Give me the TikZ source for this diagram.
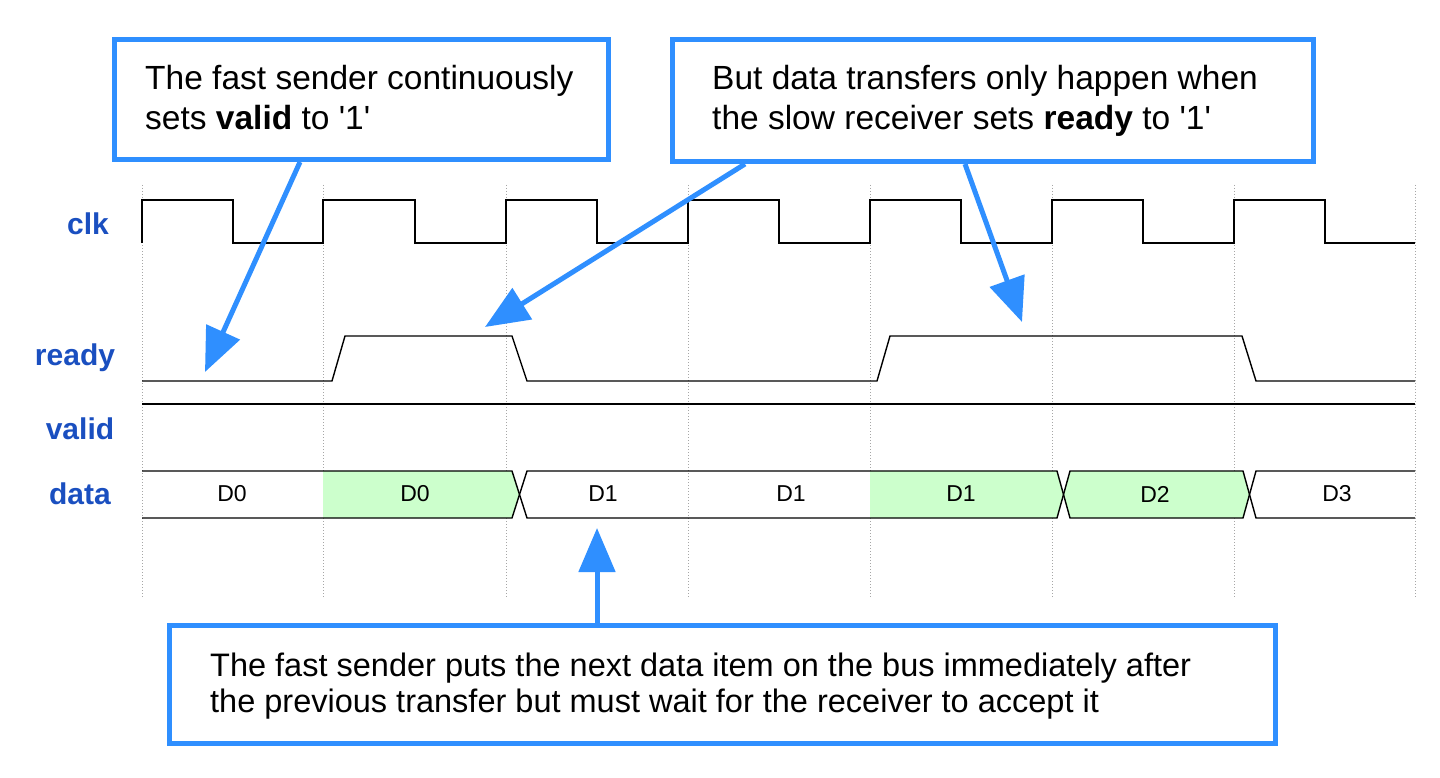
\documentclass[tikz,border=0pt]{standalone}
\usepackage{fontspec}
\setmainfont{Liberation Sans}
\usetikzlibrary{arrows.meta}
\definecolor{lbl}{HTML}{1A4FC0}
\definecolor{cb}{HTML}{2F8FFF}
\definecolor{gr}{HTML}{CCFFCC}
\newcommand{\sq}{\textquotesingle}
\begin{document}
\begin{tikzpicture}[x=1pt,y=-1pt,
  sig/.style={line width=1.4pt,black},
  lab/.style={font=\fontsize{30}{34}\selectfont\bfseries,text=lbl},
  dl/.style={font=\fontsize{23}{26}\selectfont},
  box/.style={draw=cb,line width=5pt,fill=white},
  btxt/.style={font=\fontsize{33.5}{40}\selectfont,anchor=base west,inner sep=0pt},
  arr/.style={draw=cb,line width=5pt,-{Triangle[width=36pt,length=44pt]}},
  grid/.style={gray!70,dotted,line width=1pt}]
\useasboundingbox (0,0) rectangle (1440,778);
\fill[white] (0,0) rectangle (1440,778);
\foreach \x in {142,323,506,688,870,1052,1234,1415}
  \draw[grid] (\x,185) -- (\x,598);
% labels
\node[lab] (lclk) at (88,224) {clk};
\node[lab] (lready) at (75,358) {ready};
\node[lab] (lvalid) at (80,429) {valid};
\node[lab] (ldata) at (80,494) {data};
% clk
\draw[sig] (142,243) -- (142,200) -- (233,200) -- (233,243) -- (323,243) -- (323,200) -- (415,200) -- (415,243) -- (506,243) -- (506,200) -- (597,200) -- (597,243) -- (688,243) -- (688,200) -- (779,200) -- (779,243) -- (870,243) -- (870,200) -- (961,200) -- (961,243) -- (1052,243) -- (1052,200) -- (1143,200) -- (1143,243) -- (1234,243) -- (1234,200) -- (1325,200) -- (1325,243) -- (1415,243);
% ready
\draw[sig] (142,381) -- (332,381) -- (345,336) -- (512,336) -- (527,381) -- (877,381) -- (890,336) -- (1242,336) -- (1256,381) -- (1415,381);
% valid
\draw[sig] (142,404) -- (1415,404);
% data
\fill[gr] (323,471) -- (512,471) -- (519.5,494.5) -- (512,518) -- (323,518) -- cycle;
\fill[gr] (870,471) -- (1057,471) -- (1063.5,494.5) -- (1070,471) -- (1243,471) -- (1249.5,494.5) -- (1243,518) -- (1070,518) -- (1063.5,494.5) -- (1057,518) -- (870,518) -- cycle;
\draw[sig] (142,471) -- (512,471) -- (527,518) -- (1057,518) -- (1070,471) -- (1243,471) -- (1256,518) -- (1415,518);
\draw[sig] (142,518) -- (512,518) -- (527,471) -- (1057,471) -- (1070,518) -- (1243,518) -- (1256,471) -- (1415,471);
\node[dl] (d0a) at (232,494) {D0};
\node[dl] (d0b) at (415,494) {D0};
\node[dl] (d1a) at (603,494) {D1};
\node[dl] (d1b) at (791,494) {D1};
\node[dl] (d1c) at (961,494) {D1};
\node[dl] (d2) at (1155,494) {D2};
\node[dl] (d3) at (1337,494) {D3};
% callouts
\coordinate (t1) at (205,372);
\coordinate (t2) at (485,327);
\coordinate (t3) at (1022,322);
\coordinate (t4) at (597,528);
\coordinate (s1) at (300,162);
\coordinate (s2) at (745,164);
\coordinate (s3) at (965,164);
\coordinate (s4) at (597,625);
\draw[arr] (s1) -- (t1);
\draw[arr] (s2) -- (t2);
\draw[arr] (s3) -- (t3);
\draw[arr] (s4) -- (t4);
\draw[box] (114,40) rectangle (608,160);
\node[btxt] (b1a) at (145,90) {The fast sender continuously};
\node[btxt] (b1b) at (145,130) {sets \textbf{valid} to \sq1\sq};
\draw[box] (672,40) rectangle (1313,162);
\node[btxt] (b2a) at (712,90) {But data transfers only happen when};
\node[btxt] (b2b) at (712,130) {the slow receiver sets \textbf{ready} to \sq1\sq};
\draw[box] (169,625) rectangle (1275,743);
\node[btxt,font=\fontsize{32.5}{40}\selectfont] (b3a) at (210,676) {The fast sender puts the next data item on the bus immediately after};
\node[btxt,font=\fontsize{32.5}{40}\selectfont] (b3b) at (210,712) {the previous transfer but must wait for the receiver to accept it};
\end{tikzpicture}
\end{document}
